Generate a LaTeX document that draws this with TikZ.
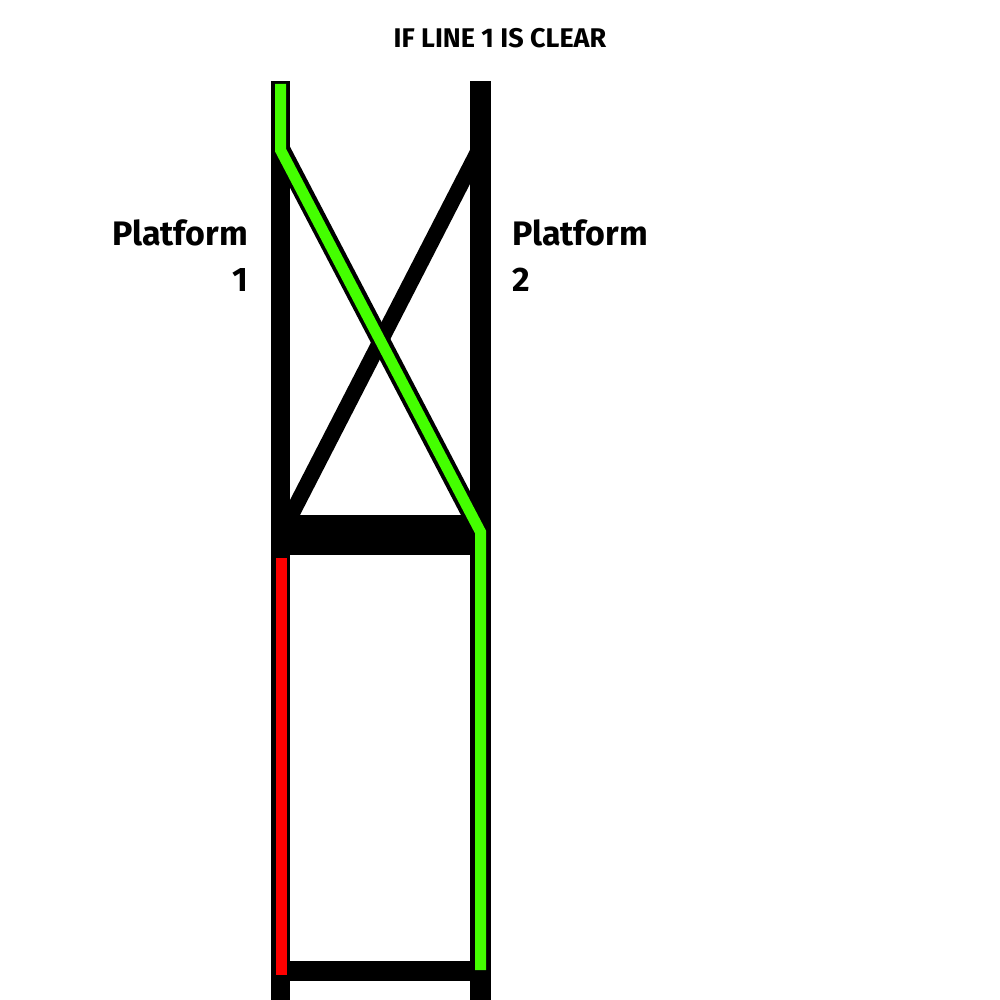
\documentclass[tikz,border=0pt]{standalone}
\usepackage{fontspec}
\setmainfont{Fira Sans}
\begin{document}
\begin{tikzpicture}[x=1pt,y=-1pt,
  lbl/.style={font=\bfseries\fontsize{34}{46}\selectfont,align=left,inner sep=0},
  grn/.style={draw=green!60!lime,color={rgb,255:red,68;green,255;blue,0},line width=11pt},
  outl/.style={draw=black,line width=19pt}]
\useasboundingbox (0,0) rectangle (1000,1000);
\fill[white] (0,0) rectangle (1000,1000);
% rails
\fill (271,81) rectangle (290,1000);
\fill (470,81) rectangle (491,1000);
\fill (271,515) rectangle (491,555);
\fill (271,961) rectangle (491,981);
\fill (290,500) -- (471,148) -- (471,182) -- (300,515) -- (290,515) -- cycle;
% green route
\draw[outl,line join=miter] (281,150) -- (480.5,532);
\draw[grn,line join=miter,draw={rgb,255:red,68;green,255;blue,0}] (280.5,84) -- (280.5,150) -- (480.5,532) -- (480.5,970);
% red
\fill[red] (276,558) rectangle (287,975);
% labels
\node[font=\bfseries\fontsize{27}{30}\selectfont,inner sep=0] (t) at (500,38) {IF LINE 1 IS CLEAR};
\node[lbl,align=right,anchor=east] (p1) at (248,256) {Platform\\1};
\node[lbl,anchor=west] (p2) at (512,256) {Platform\\2};
\end{tikzpicture}
\end{document}
